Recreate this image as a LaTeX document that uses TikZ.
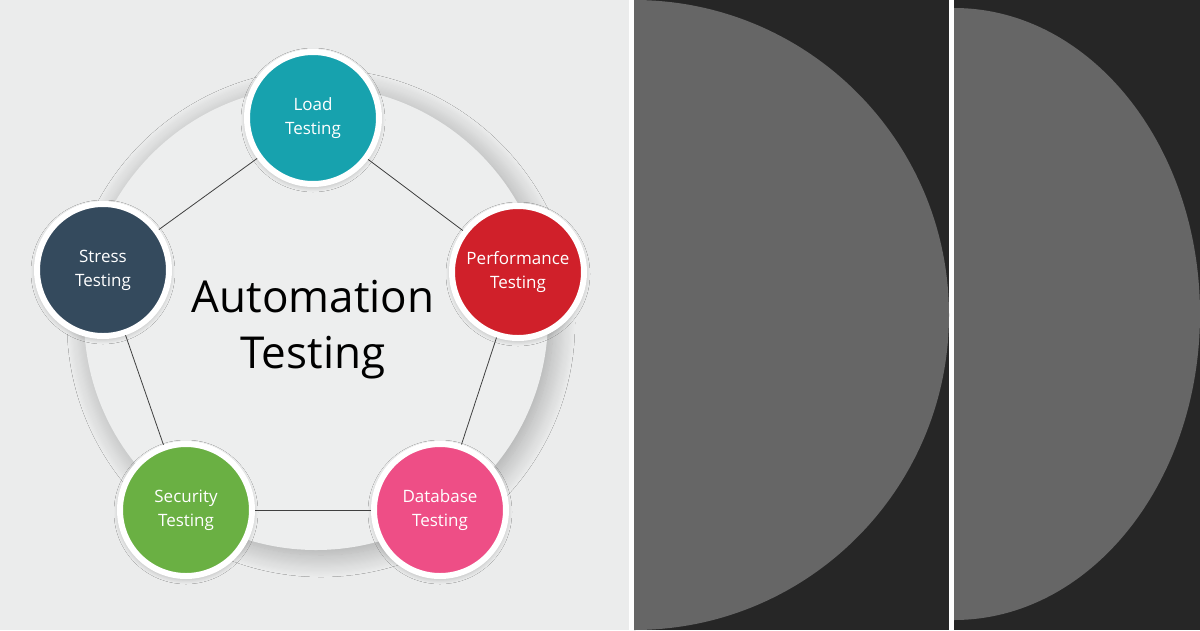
\documentclass[tikz,border=0pt]{standalone}
\usepackage{fontspec}
\setmainfont{Open Sans}
\usetikzlibrary{shadows.blur}
\definecolor{bgl}{HTML}{EBECEC}
\definecolor{bgc}{HTML}{EDEEEE}
\definecolor{dark}{HTML}{262626}
\definecolor{midg}{HTML}{666666}
\definecolor{cteal}{HTML}{17A2AE}
\definecolor{cred}{HTML}{D0202A}
\definecolor{cpink}{HTML}{EE4E86}
\definecolor{cgreen}{HTML}{6AB043}
\definecolor{cnavy}{HTML}{344A5D}
\tikzset{
 topic/.style={circle, fill=#1, draw=white, line width=6pt, minimum size=132pt, inner sep=0pt,
   text=white, font=\fontsize{17}{24}\selectfont, align=center,
   blur shadow={shadow blur steps=10, shadow xshift=0pt, shadow yshift=-2pt, shadow blur radius=6pt, shadow opacity=30}},
 link/.style={draw=black!75, line width=0.8pt}
}
\begin{document}
\begin{tikzpicture}[x=1pt,y=-1pt]
\useasboundingbox (0,0) rectangle (1200,630);
\fill[bgl] (0,0) rectangle (629,630);
\fill[white] (629,0) rectangle (634,630);
\fill[dark] (634,0) rectangle (949,630);
\fill[white] (949,0) rectangle (954,630);
\fill[dark] (954,0) rectangle (1200,630);
\begin{scope}
\clip (634,0) rectangle (949,630);
\fill[midg] (634,315) circle[radius=315];
\end{scope}
\begin{scope}
\clip (954,0) rectangle (1200,630);
\fill[midg] (954,314) ellipse[x radius=246, y radius=306];
\end{scope}
\fill[bgc, blur shadow={shadow blur steps=20, shadow xshift=5pt, shadow yshift=-5pt, shadow blur radius=22pt, shadow opacity=30}] (316,318) circle[radius=232];
\node[topic=cteal] (load) at (313,118) {Load\\Testing};
\node[topic=cred] (perf) at (518,272) {Performance\\Testing};
\node[topic=cpink] (db) at (440,510) {Database\\Testing};
\node[topic=cgreen] (sec) at (186,510) {Security\\Testing};
\node[topic=cnavy] (stress) at (103,270) {Stress\\Testing};
\draw[link] (load) -- (perf);
\draw[link] (perf) -- (db);
\draw[link] (db) -- (sec);
\draw[link] (sec) -- (stress);
\draw[link] (stress) -- (load);
\node[font=\fontsize{44}{56}\selectfont, align=center, text=black] (title) at (313,330) {Automation\\Testing};
\end{tikzpicture}
\end{document}
